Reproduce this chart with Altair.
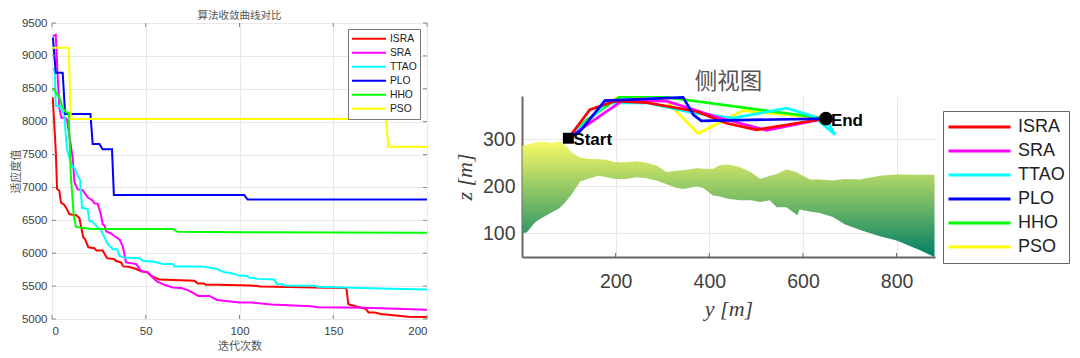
import altair as alt
import pandas as pd

names = ["ISRA", "SRA", "TTAO", "PLO", "HHO", "PSO"]
colors = ["#ff0000", "#ff00ff", "#00ffff", "#0000ff", "#00ff00", "#ffff00"]

isra_it = [0.4,2,2.7,3.9,4.8,6.6,8,9.2,11,12.8,14.6,16.7,17.6,19.4,22.6,23.7,27,29.4,33.3,34,36.8,38,41,45,47.5,51,52.8,57.3,76,77.8,81,82,88,106,111.4,140,157,158,158.5,167.5,168.8,172,175.4,186,189.7,200]
isra_fit = [8370,7560,6975,6950,6770,6735,6670,6595,6585,6580,6535,6240,6215,6090,6075,6040,6040,5925,5910,5885,5860,5800,5795,5760,5725,5710,5660,5600,5580,5540,5540,5520,5520,5510,5495,5480,5470,5230,5220,5150,5100,5100,5075,5045,5035,5030]
sra_it = [0.5,2,3,4,5,7,8,11,12,13.7,16.4,19,21.7,22.6,24.4,26,27,28,29,31.5,33,36,37.7,39.5,45,47.5,51,53.7,56,60,64.4,69,72.4,75,78,84,88,100,106,117,138,142,167,200]
sra_fit = [9300,9320,8700,8200,8060,8060,8030,7455,7075,6970,6960,6850,6800,6760,6750,6600,6440,6420,6330,6300,6265,6210,6110,5860,5835,5730,5710,5630,5570,5520,5480,5470,5440,5400,5350,5350,5290,5250,5250,5220,5195,5180,5170,5140]
ttao_it = [0.5,1.5,2,4,6.5,8,9.2,11,12,13.7,15,16,19,20,22,24.4,26,27.6,29.7,32.4,34.7,36,38.6,46.6,48.4,54.6,59,64.4,65.3,79.5,85,88,92,95.4,100,104,105,110,118.5,120,123,124,140,141.6,156,175,200]
ttao_fit = [8800,8790,8240,8240,8110,7580,7455,7310,7300,7180,7110,6690,6670,6490,6470,6390,6365,6265,6140,6060,6060,5960,5935,5925,5885,5870,5835,5835,5800,5800,5775,5760,5710,5700,5660,5655,5630,5610,5600,5530,5530,5510,5505,5490,5480,5465,5450]
plo_it = [0.5,2,5.7,7,20.5,21.7,25.3,27,32,33,102.5,104.3,200]
plo_fit = [9280,8745,8745,8115,8115,7660,7660,7580,7580,6885,6885,6815,6815]
hho_it = [0.4,4,5.7,7.5,8.9,10,11.6,12.8,20.8,64.4,67,100,200]
hho_fit = [8510,8365,8215,8140,8140,7200,6570,6400,6370,6370,6325,6320,6310]
pso_it = [0.3,8.9,10,178,179.4,200]
pso_fit = [9125,9125,8040,8040,7620,7620]

terrain_y = [1,10,28,44,60,80,92,106,124,145,163,181,198,223,245,266,287,309,327,344,373,387,408,423,440,465,490,509,529,544,565,588,593,615,636,664,689,721,764,800,849,881]
terrain_top = [286,288,293,295,292,295,288,272,261,258,257,256,251,251,253,250,244,230,233,234,238,237,237,245,246,241,229,215,222,226,236,229,226,214,214,212,215,214,222,225,224,224]
terrain_bottom = [100,101,123,133,142,153,165,182,210,217,222,219,215,215,219,217,212,204,197,194,199,196,180,178,173,170,170,166,170,155,155,138,150,146,143,134,119,107,93,84,64,49]

isra_y = [99,145,198,266,373,437,501,649]
isra_z = [302,363,381,378,359,334,320,344]
sra_y = [99,166,216,309,423,522,649]
sra_z = [302,349,383,381,345,319,344]
ttao_y = [99,152,181,266,366,451,565,622,668,649]
ttao_z = [302,349,377,378,356,345,366,349,310,344]
plo_y = [99,124,177,344,366,383,649]
plo_z = [302,317,382,389,352,339,344]
hho_y = [99,138,209,280,649]
hho_z = [302,341,390,393,344]
pso_y = [99,131,209,309,376,472,649]
pso_z = [302,334,393,381,312,361,344]

x_ticks_left = [0, 50, 100, 150, 200]
y_ticks_left = [5000, 5500, 6000, 6500, 7000, 7500, 8000, 8500, 9000, 9500]
x_ticks_right = [200, 400, 600, 800]
y_ticks_right = [100, 200, 300]
marker_names = ["Start", "End"]
marker_y = [99, 649]
marker_z = [302, 344]

CJK = "Noto Sans CJK SC"
SANS = "Liberation Sans"
SERIF = "Liberation Serif"
GRAY = "#404040"
GRID = "#e8e8e8"


def series(tables, xname, yname):
    rows = []
    for idx, (name, xs, ys) in enumerate(tables):
        for i, (a, b) in enumerate(zip(xs, ys)):
            rows.append({"name": name, "k": idx, "i": i, xname: a, yname: b})
    return pd.DataFrame(rows)


conv = series(list(zip(names, [isra_it, sra_it, ttao_it, plo_it, hho_it, pso_it],
                       [isra_fit, sra_fit, ttao_fit, plo_fit, hho_fit, pso_fit])), "it", "fit")
W1, H1 = 375, 296
W2, H2 = 413, 161

xs1 = alt.Scale(domain=[0, 200], nice=False)
ys1 = alt.Scale(domain=[5000, 9500], nice=False)
xa1 = alt.Axis(values=x_ticks_left, grid=True, gridColor=GRID, tickSize=0, domain=False,
               labelFont=SANS, labelFontSize=11.5, labelColor=GRAY, labelPadding=6,
               labelOverlap=False, format="d",
               titleFont=CJK, titleFontSize=11, titleColor="#555555", titleFontWeight="normal",
               titlePadding=4)
ya1 = alt.Axis(values=y_ticks_left, grid=True, gridColor=GRID, tickSize=0, domain=False,
               labelFont=SANS, labelFontSize=11.5, labelColor=GRAY, labelPadding=5,
               labelOverlap=False, format="d",
               titleFont=CJK, titleFontSize=11, titleColor="#555555", titleFontWeight="normal",
               titlePadding=0)
XT1, YT1 = "迭代次数", "适应度值"

lines1 = alt.Chart(conv).mark_line(strokeWidth=2, clip=True).encode(
    x=alt.X("it:Q", scale=xs1, title=XT1, axis=xa1),
    y=alt.Y("fit:Q", scale=ys1, title=YT1, axis=ya1),
    color=alt.Color("name:N", sort=names, scale=alt.Scale(domain=names, range=colors),
                    legend=alt.Legend(orient="none", legendX=296, legendY=6, title=None,
                                      symbolType="stroke", symbolSize=1156, symbolStrokeWidth=2,
                                      clipHeight=13.6, labelFont=SANS, labelFontSize=10.3,
                                      labelColor="#222222", labelOffset=3, padding=3,
                                      rowPadding=0, fillColor="white", strokeColor="#777777")),
    order="k:Q",
    detail="name:N",
)

y_tick_df = pd.DataFrame({"v": y_ticks_left})
x_tick_df = pd.DataFrame({"v": x_ticks_left})
rticks1 = alt.Chart(y_tick_df).mark_rule(color="#888888").encode(
    y=alt.Y("v:Q", scale=ys1, title=YT1, axis=ya1), x=alt.value(W1 - 4), x2=alt.value(W1))
lticks1 = alt.Chart(y_tick_df).mark_rule(color="#888888").encode(
    y=alt.Y("v:Q", scale=ys1, title=YT1, axis=ya1), x=alt.value(0), x2=alt.value(4))
bticks1 = alt.Chart(x_tick_df).mark_rule(color="#888888").encode(
    x=alt.X("v:Q", scale=xs1, title=XT1, axis=xa1), y=alt.value(H1 - 4), y2=alt.value(H1))
tticks1 = alt.Chart(x_tick_df).mark_rule(color="#888888").encode(
    x=alt.X("v:Q", scale=xs1, title=XT1, axis=xa1), y=alt.value(0), y2=alt.value(4))

left = alt.layer(lines1, rticks1, lticks1, bticks1, tticks1).properties(
    width=W1, height=H1,
    view=alt.ViewBackground(stroke="#888888", strokeWidth=1),
    title=alt.Title("算法收敛曲线对比", font=CJK, fontSize=10.5, color="#555555",
                    fontWeight="normal", offset=-4.5),
)

side_order = ["PSO", "HHO", "TTAO", "SRA", "ISRA", "PLO"]
side_tables = {"ISRA": (isra_y, isra_z), "SRA": (sra_y, sra_z), "TTAO": (ttao_y, ttao_z),
               "PLO": (plo_y, plo_z), "HHO": (hho_y, hho_z), "PSO": (pso_y, pso_z)}
side = series([(n, *side_tables[n]) for n in side_order], "y", "z")

xs2 = alt.Scale(domain=[0, 882], nice=False)
ys2 = alt.Scale(domain=[49, 392], nice=False)
xa2 = alt.Axis(values=x_ticks_right, grid=True, gridColor=GRID, tickSize=0,
               domainColor="#666666", domainWidth=2, labelOverlap=False,
               labelFont=SANS, labelFontSize=19.5, labelColor=GRAY, labelPadding=15,
               titleFont=SERIF, titleFontSize=22, titleColor=GRAY, titleFontStyle="italic",
               titleFontWeight="normal", titlePadding=8)
ya2 = alt.Axis(values=y_ticks_right, grid=True, gridColor=GRID, tickSize=0,
               domainColor="#666666", domainWidth=2, labelOverlap=False,
               labelFont=SANS, labelFontSize=19.5, labelColor=GRAY, labelPadding=7,
               titleFont=SERIF, titleFontSize=22, titleColor=GRAY, titleFontStyle="italic",
               titleFontWeight="normal", titlePadding=6)
XT2, YT2 = "y [m]", "z [m]"

terrain = pd.DataFrame({"y": terrain_y, "top": terrain_top, "bottom": terrain_bottom})
ground = alt.Chart(terrain).mark_area(
    color=alt.Gradient(gradient="linear", x1=0, x2=0, y1=1, y2=0,
                       stops=[alt.GradientStop(offset=0, color="#007f66"),
                              alt.GradientStop(offset=1, color="#f8fa66")])
).encode(
    x=alt.X("y:Q", scale=xs2, title=XT2, axis=xa2),
    y=alt.Y("top:Q", scale=ys2, title=YT2, axis=ya2),
    y2="bottom:Q",
)
bticks2 = alt.Chart(pd.DataFrame({"v": x_ticks_right})).mark_rule(color="#666666").encode(
    x=alt.X("v:Q", scale=xs2, title=XT2, axis=xa2), y=alt.value(H2 - 4), y2=alt.value(H2))
lines2 = alt.Chart(side).mark_line(strokeWidth=2.7, clip=True).encode(
    x=alt.X("y:Q", scale=xs2, title=XT2, axis=xa2),
    y=alt.Y("z:Q", scale=ys2, title=YT2, axis=ya2),
    color=alt.Color("name:N", sort=names, scale=alt.Scale(domain=names, range=colors),
                    legend=alt.Legend(orient="none", legendX=421, legendY=15, title=None,
                                      symbolType="stroke", symbolSize=3844, symbolStrokeWidth=3,
                                      clipHeight=23.8, labelFont=SANS, labelFontSize=18,
                                      labelColor="#222222", labelOffset=6, padding=4,
                                      rowPadding=0, fillColor="white", strokeColor="#666666")),
    order="i:Q",
    detail="name:N",
)
markers = pd.DataFrame({"label": marker_names, "y": marker_y, "z": marker_z})
start_pt = alt.Chart(markers[markers.label == "Start"]).mark_point(
    shape="square", filled=True, color="black", size=120, opacity=1).encode(
    x=alt.X("y:Q", scale=xs2, title=XT2, axis=xa2), y=alt.Y("z:Q", scale=ys2, title=YT2, axis=ya2))
end_pt = alt.Chart(markers[markers.label == "End"]).mark_point(
    shape="circle", filled=True, color="black", size=190, opacity=1).encode(
    x=alt.X("y:Q", scale=xs2, title=XT2, axis=xa2), y=alt.Y("z:Q", scale=ys2, title=YT2, axis=ya2))
labels = alt.Chart(markers).mark_text(
    align="left", baseline="middle", font=SANS, fontSize=17, fontWeight="bold", color="black", dx=5, dy=2
).encode(x=alt.X("y:Q", scale=xs2, title=XT2, axis=xa2), y=alt.Y("z:Q", scale=ys2, title=YT2, axis=ya2), text="label:N")

right = alt.layer(ground, bticks2, lines2, start_pt, end_pt, labels).properties(
    width=W2, height=H2,
    title=alt.Title("侧视图", font=CJK, fontSize=22.5, color="#555555", fontWeight="normal", offset=3),
).resolve_scale(color="independent")

spacer = alt.Chart(pd.DataFrame({"a": [0]})).mark_point(opacity=0).encode(
    x=alt.X("a:Q", axis=None), y=alt.Y("a:Q", axis=None)
).properties(width=1, height=47)

chart = alt.hconcat(left, alt.vconcat(spacer, right, spacing=0), spacing=25).configure_view(
    stroke=None
).properties(padding={"left": 1, "top": 2, "right": 0, "bottom": 0}, background="white")

chart.save("out.html", embed_options={"renderer": "svg", "actions": False})
